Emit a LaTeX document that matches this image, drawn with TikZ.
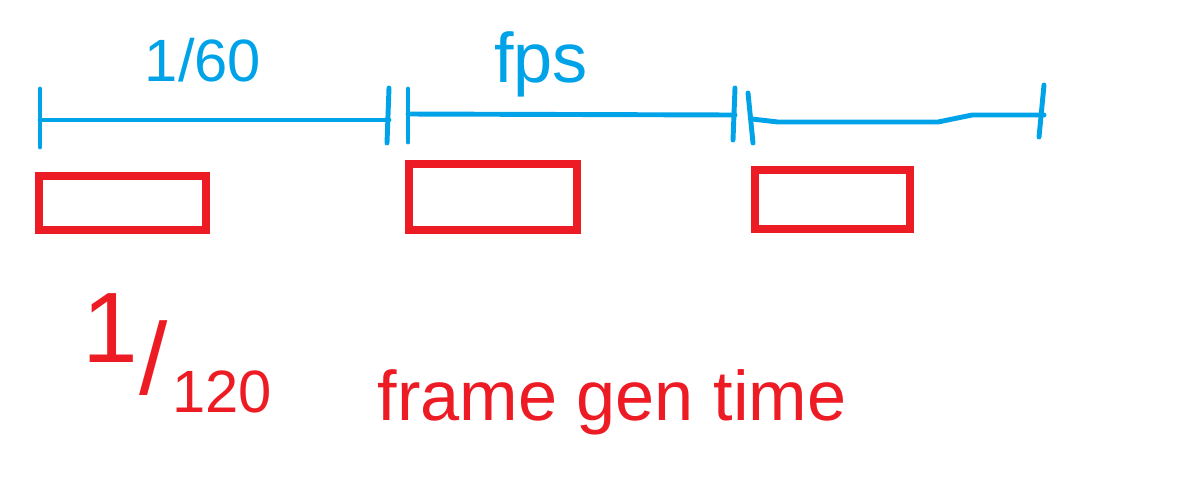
\documentclass[tikz,border=0pt]{standalone}
\usepackage{fontspec}
\setmainfont{Liberation Sans}
\usetikzlibrary{positioning}
\definecolor{paintblue}{RGB}{0,162,232}
\definecolor{paintred}{RGB}{237,28,36}
\tikzstyle{axis}=[draw=paintblue, line width=2.8pt, line cap=round, line join=round]
\tikzstyle{frm}=[draw=paintred, line width=4.5pt, shape=rectangle, inner sep=0pt]
\tikzstyle{bluelbl}=[text=paintblue, inner sep=0pt, font=\fontsize{34}{34}\selectfont]
\tikzstyle{redlbl}=[text=paintred, inner sep=0pt, font=\fontsize{40}{40}\selectfont]

\begin{document}
\begin{tikzpicture}[x=0.02cm, y=-0.02cm]
\useasboundingbox (0,0) rectangle (1203,478);
% the tick ends
\coordinate (A0) at (40,89);   \coordinate (B0) at (40,147);
\coordinate (A1) at (389,88);  \coordinate (B1) at (387,143);
\coordinate (A2) at (408,89);  \coordinate (B2) at (408,142);
\coordinate (A3) at (735,88);  \coordinate (B3) at (733,140);
\coordinate (A4) at (748,93);  \coordinate (B4) at (753,143);
\coordinate (A5) at (1044,85); \coordinate (B5) at (1039,137);
% the span ends
\coordinate (L1) at (40,120);  \coordinate (R1) at (389,120);
\coordinate (L2) at (408,114); \coordinate (R2) at (735,115);
\coordinate (L3) at (752,119); \coordinate (K3) at (778,122);
\coordinate (M3) at (938,122); \coordinate (N3) at (972,115);
\coordinate (R3) at (1044,115);
% the ticks
\draw[axis] (A0) -- (B0);
\draw[axis] (A1) -- (B1);
\draw[axis] (A2) -- (B2);
\draw[axis] (A3) -- (B3);
\draw[axis] (A4) -- (B4);
\draw[axis] (A5) -- (B5);
% the spans
\draw[axis] (L1) -- (R1);
\draw[axis] (L2) -- (R2);
\draw[axis] (L3) -- (K3) -- (M3) -- (N3) -- (R3);
% the span labels
\node[bluelbl] (P1) at (203,60) {1/60};
\node[bluelbl, font=\fontsize{40}{40}\selectfont] (P2) at (541,64) {fps};
% the frames
\node[frm, minimum width=3.34cm, minimum height=1.08cm] (F1) at (122.5,203) {};
\node[frm, minimum width=3.36cm, minimum height=1.32cm] (F2) at (493,197) {};
\node[frm, minimum width=3.10cm, minimum height=1.18cm] (F3) at (832.5,199.5) {};
% the red notes
\node[redlbl, font=\fontsize{57}{57}\selectfont] (Q1) at (110,328) {1};
\node[redlbl, font=\fontsize{58}{58}\selectfont] (Q2) at (154,358) {/};
\node[redlbl, font=\fontsize{34}{34}\selectfont] (Q3) at (222,392) {120};
\node[redlbl] (Q4) at (612,402) {frame gen time};
\end{tikzpicture}
\end{document}
